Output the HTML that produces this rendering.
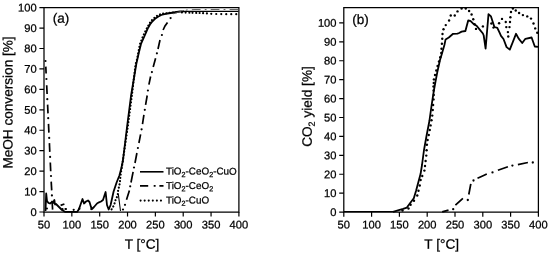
<!DOCTYPE html><html><head><meta charset="utf-8"><title>fig</title><style>html,body{margin:0;padding:0;background:#fff}svg{display:block}text{font-family:"Liberation Sans",sans-serif;fill:#000;stroke:#000;stroke-width:0.25;text-rendering:geometricPrecision}</style></head><body>
<svg width="550" height="255" viewBox="0 0 550 255">
<rect width="550" height="255" fill="#fff"/>
<path d="M44.0,7.6H238.9V212.0H44.0Z" fill="none" stroke="#000" stroke-width="1.25"/>
<text x="36.70" y="215.90" transform="rotate(0.03 36.70 215.90)" font-size="11.15" text-anchor="end">0</text>
<text x="36.70" y="195.46" transform="rotate(0.03 36.70 195.46)" font-size="11.15" text-anchor="end">10</text>
<text x="36.70" y="175.02" transform="rotate(0.03 36.70 175.02)" font-size="11.15" text-anchor="end">20</text>
<text x="36.70" y="154.58" transform="rotate(0.03 36.70 154.58)" font-size="11.15" text-anchor="end">30</text>
<text x="36.70" y="134.14" transform="rotate(0.03 36.70 134.14)" font-size="11.15" text-anchor="end">40</text>
<text x="36.70" y="113.70" transform="rotate(0.03 36.70 113.70)" font-size="11.15" text-anchor="end">50</text>
<text x="36.70" y="93.26" transform="rotate(0.03 36.70 93.26)" font-size="11.15" text-anchor="end">60</text>
<text x="36.70" y="72.82" transform="rotate(0.03 36.70 72.82)" font-size="11.15" text-anchor="end">70</text>
<text x="36.70" y="52.38" transform="rotate(0.03 36.70 52.38)" font-size="11.15" text-anchor="end">80</text>
<text x="36.70" y="31.94" transform="rotate(0.03 36.70 31.94)" font-size="11.15" text-anchor="end">90</text>
<text x="36.70" y="11.50" transform="rotate(0.03 36.70 11.50)" font-size="11.15" text-anchor="end">100</text>
<text x="44.00" y="228.40" transform="rotate(0.03 44.00 228.40)" font-size="11.15" text-anchor="middle">50</text>
<text x="71.84" y="228.40" transform="rotate(0.03 71.84 228.40)" font-size="11.15" text-anchor="middle">100</text>
<text x="99.69" y="228.40" transform="rotate(0.03 99.69 228.40)" font-size="11.15" text-anchor="middle">150</text>
<text x="127.53" y="228.40" transform="rotate(0.03 127.53 228.40)" font-size="11.15" text-anchor="middle">200</text>
<text x="155.37" y="228.40" transform="rotate(0.03 155.37 228.40)" font-size="11.15" text-anchor="middle">250</text>
<text x="183.21" y="228.40" transform="rotate(0.03 183.21 228.40)" font-size="11.15" text-anchor="middle">300</text>
<text x="211.06" y="228.40" transform="rotate(0.03 211.06 228.40)" font-size="11.15" text-anchor="middle">350</text>
<text x="238.90" y="228.40" transform="rotate(0.03 238.90 228.40)" font-size="11.15" text-anchor="middle">400</text>
<path d="M39.4,212.00H44.0M39.4,191.56H44.0M39.4,171.12H44.0M39.4,150.68H44.0M39.4,130.24H44.0M39.4,109.80H44.0M39.4,89.36H44.0M39.4,68.92H44.0M39.4,48.48H44.0M39.4,28.04H44.0M39.4,7.60H44.0M44.00,212.0V216.6M71.84,212.0V216.6M99.69,212.0V216.6M127.53,212.0V216.6M155.37,212.0V216.6M183.21,212.0V216.6M211.06,212.0V216.6M238.90,212.0V216.6" stroke="#000" stroke-width="1.2" fill="none"/>
<text x="142.05" y="248.80" transform="rotate(0.03 142.05 248.80)" font-size="13.6" text-anchor="middle">T [°C]</text>
<text transform="translate(12.4,168.6) rotate(-89.97)" font-size="13.6">MeOH conversion [%]</text>
<text x="52.80" y="22.80" transform="rotate(0.03 52.80 22.80)" font-size="13.5" text-anchor="start">(a)</text>
<polyline points="45.5,211.0 46.2,193.5 47.0,201.0 48.5,203.0 50.0,203.5 52.0,202.0 53.0,203.0 54.4,200.0 55.0,204.5 56.0,204.0 58.0,206.0 60.0,208.0 62.0,210.0 65.0,211.8 77.3,211.8 79.0,209.0 82.5,199.0 84.0,203.5 86.0,201.5 88.0,200.5 89.5,202.0 91.0,207.0 92.0,209.0 94.0,207.0 97.0,203.5 99.0,202.3 101.0,201.5 103.0,200.0 105.6,192.0 107.0,205.0 108.7,209.5 110.6,205.0 113.6,191.5 116.6,182.5 119.4,175.5 121.4,168.0 123.0,160.0 126.9,128.0 131.0,96.0 136.3,64.0 139.0,52.0 141.0,44.0 146.3,32.0 148.0,28.0 150.0,24.5 152.5,21.3 155.0,18.8 158.0,16.7 161.3,15.0 164.5,14.1 167.5,13.5 173.8,12.5 180.0,11.5 184.0,11.3" fill="none" stroke="#000" stroke-width="1.8" stroke-linejoin="round"/>
<polyline points="111.6,209.3 114.0,205.2 115.8,199.3 117.7,195.5 118.1,190.6 119.0,186.9 119.8,183.1 120.4,176.3 121.5,168.8 122.8,161.3 123.5,156.0 127.6,128.0 131.8,96.0 135.6,64.0 137.0,59.5 138.4,52.0 140.0,44.0 142.3,38.0 145.0,32.0 147.3,27.5 149.3,23.8 152.5,19.3 157.0,15.8 162.0,13.6 166.0,13.3 173.8,12.4 179.0,12.0" fill="none" stroke="#000" stroke-width="2.2" stroke-dasharray="0.01 3.3" stroke-linecap="round"/>
<path d="M45.8,66.6 L46.1,73.5M46.7,85.2 L47.1,94.0M47.6,104.6 L48.0,113.4M48.5,123.9 L48.9,132.6M49.4,143.1 L49.8,151.9M50.3,162.5 L50.7,171.2M51.2,181.6 L51.7,190.4M52.1,200.7 L52.6,209.6M60.6,205.4 L64.4,204.0M126.5,199.8 L129.4,190.4M131.0,182.5 L133.1,171.9M135.0,163.0 L136.9,153.0M138.9,143.0 L140.6,134.3M142.5,124.1 L143.9,114.8M145.6,104.8 L147.2,95.5M148.9,84.6 L150.6,76.5M153.2,67.0 L155.6,58.3M158.0,49.0 L160.0,40.0M163.1,30.0 L165.0,26.0 L167.5,22.5" fill="none" stroke="#000" stroke-width="1.7"/>
<circle cx="45.5" cy="61.0" r="1.1"/><circle cx="46.4" cy="79.0" r="1.1"/><circle cx="47.3" cy="99.2" r="1.1"/><circle cx="48.2" cy="118.2" r="1.1"/><circle cx="49.2" cy="137.9" r="1.1"/><circle cx="50.1" cy="156.9" r="1.1"/><circle cx="51.0" cy="176.0" r="1.1"/><circle cx="51.9" cy="195.4" r="1.1"/><circle cx="65.6" cy="209.0" r="1.1"/><circle cx="123.0" cy="209.5" r="1.1"/><circle cx="125.0" cy="204.8" r="1.1"/><circle cx="130.2" cy="186.3" r="1.1"/><circle cx="134.0" cy="167.5" r="1.1"/><circle cx="137.9" cy="148.0" r="1.1"/><circle cx="141.6" cy="129.3" r="1.1"/><circle cx="144.8" cy="109.8" r="1.1"/><circle cx="147.9" cy="90.5" r="1.1"/><circle cx="151.9" cy="72.1" r="1.1"/><circle cx="156.9" cy="53.3" r="1.1"/><circle cx="161.9" cy="35.0" r="1.1"/><circle cx="170.6" cy="18.1" r="1.1"/>
<path d="M118.3,194L120.5,211" stroke="#000" stroke-width="1.1"/>
<polyline points="173.5,13.8 178.0,12.2 182.0,11.2 187.0,9.9 195.0,9.5 238.0,9.5" fill="none" stroke="#555" stroke-width="0.9" stroke-dasharray="8.7 4.2 1.8 4.2"/>
<polyline points="183.0,11.3 238.5,11.3" fill="none" stroke="#000" stroke-width="1.3"/>
<circle cx="46.9" cy="208.5" r="1.1"/><circle cx="62.5" cy="209.2" r="1.1"/><circle cx="65.8" cy="209" r="1.1"/><circle cx="73.7" cy="209.8" r="1.1"/><circle cx="79.4" cy="208.7" r="1.1"/><circle cx="91.3" cy="209.1" r="1.1"/>
<circle cx="181.9" cy="12.4" r="1.1"/><circle cx="185.6" cy="12.6" r="1.1"/><circle cx="189.4" cy="12.7" r="1.1"/><circle cx="192.5" cy="12.8" r="1.1"/><circle cx="196.25" cy="12.9" r="1.1"/><circle cx="199.6" cy="13.0" r="1.1"/><circle cx="203.1" cy="13.2" r="1.1"/><circle cx="206.9" cy="13.4" r="1.1"/><circle cx="211.25" cy="13.8" r="1.1"/><circle cx="216.25" cy="14.0" r="1.1"/><circle cx="221.25" cy="14.1" r="1.1"/><circle cx="226.25" cy="14.2" r="1.1"/><circle cx="231.25" cy="14.2" r="1.1"/><circle cx="236.25" cy="14.2" r="1.1"/>
<path d="M140,171.8H163.5" stroke="#000" stroke-width="1.6"/>
<path d="M140,185.9H148.2M153.7,185.9H155.6M159.4,185.9H163.5" stroke="#000" stroke-width="1.7"/>
<path d="M140.6,200.6H161.5" stroke="#000" stroke-width="2.1" stroke-dasharray="0.01 4.06" stroke-linecap="round"/>
<text x="166.0" y="174.6" transform="rotate(0.03 166 174.6)" font-size="9.9" stroke-width="0.25"><tspan dy="0">TiO</tspan><tspan font-size="7.2" dy="2.4">2</tspan><tspan dy="-2.4">-CeO</tspan><tspan font-size="7.2" dy="2.4">2</tspan><tspan dy="-2.4">-CuO</tspan></text>
<text x="166.0" y="188.9" transform="rotate(0.03 166 188.9)" font-size="9.9" stroke-width="0.25"><tspan dy="0">TiO</tspan><tspan font-size="7.2" dy="2.4">2</tspan><tspan dy="-2.4">-CeO</tspan><tspan font-size="7.2" dy="2.4">2</tspan></text>
<text x="166.0" y="203.4" transform="rotate(0.03 166 203.4)" font-size="9.9" stroke-width="0.25"><tspan dy="0">TiO</tspan><tspan font-size="7.2" dy="2.4">2</tspan><tspan dy="-2.4">-CuO</tspan></text>
<path d="M344,211.5H394" stroke="#000" stroke-width="1.1"/>
<path d="M343.8,7.6H538.4V212.1H343.8Z" fill="none" stroke="#000" stroke-width="1.25"/>
<text x="336.50" y="216.00" transform="rotate(0.03 336.50 216.00)" font-size="11.15" text-anchor="end">0</text>
<text x="336.50" y="197.08" transform="rotate(0.03 336.50 197.08)" font-size="11.15" text-anchor="end">10</text>
<text x="336.50" y="178.16" transform="rotate(0.03 336.50 178.16)" font-size="11.15" text-anchor="end">20</text>
<text x="336.50" y="159.24" transform="rotate(0.03 336.50 159.24)" font-size="11.15" text-anchor="end">30</text>
<text x="336.50" y="140.32" transform="rotate(0.03 336.50 140.32)" font-size="11.15" text-anchor="end">40</text>
<text x="336.50" y="121.40" transform="rotate(0.03 336.50 121.40)" font-size="11.15" text-anchor="end">50</text>
<text x="336.50" y="102.48" transform="rotate(0.03 336.50 102.48)" font-size="11.15" text-anchor="end">60</text>
<text x="336.50" y="83.56" transform="rotate(0.03 336.50 83.56)" font-size="11.15" text-anchor="end">70</text>
<text x="336.50" y="64.64" transform="rotate(0.03 336.50 64.64)" font-size="11.15" text-anchor="end">80</text>
<text x="336.50" y="45.72" transform="rotate(0.03 336.50 45.72)" font-size="11.15" text-anchor="end">90</text>
<text x="336.50" y="26.80" transform="rotate(0.03 336.50 26.80)" font-size="11.15" text-anchor="end">100</text>
<text x="343.80" y="228.50" transform="rotate(0.03 343.80 228.50)" font-size="11.15" text-anchor="middle">50</text>
<text x="371.60" y="228.50" transform="rotate(0.03 371.60 228.50)" font-size="11.15" text-anchor="middle">100</text>
<text x="399.40" y="228.50" transform="rotate(0.03 399.40 228.50)" font-size="11.15" text-anchor="middle">150</text>
<text x="427.20" y="228.50" transform="rotate(0.03 427.20 228.50)" font-size="11.15" text-anchor="middle">200</text>
<text x="455.00" y="228.50" transform="rotate(0.03 455.00 228.50)" font-size="11.15" text-anchor="middle">250</text>
<text x="482.80" y="228.50" transform="rotate(0.03 482.80 228.50)" font-size="11.15" text-anchor="middle">300</text>
<text x="510.60" y="228.50" transform="rotate(0.03 510.60 228.50)" font-size="11.15" text-anchor="middle">350</text>
<text x="538.40" y="228.50" transform="rotate(0.03 538.40 228.50)" font-size="11.15" text-anchor="middle">400</text>
<path d="M339.2,212.10H343.8M339.2,193.18H343.8M339.2,174.26H343.8M339.2,155.34H343.8M339.2,136.42H343.8M339.2,117.50H343.8M339.2,98.58H343.8M339.2,79.66H343.8M339.2,60.74H343.8M339.2,41.82H343.8M339.2,22.90H343.8M343.80,212.1V216.7M371.60,212.1V216.7M399.40,212.1V216.7M427.20,212.1V216.7M455.00,212.1V216.7M482.80,212.1V216.7M510.60,212.1V216.7M538.40,212.1V216.7" stroke="#000" stroke-width="1.2" fill="none"/>
<text x="441.70" y="248.80" transform="rotate(0.03 441.70 248.80)" font-size="13.6" text-anchor="middle">T [°C]</text>
<text transform="translate(311.7,146.8) rotate(-89.97)" font-size="13.6">CO<tspan font-size="9" dy="3">2</tspan><tspan dy="-3"> yield [%]</tspan></text>
<text x="352.20" y="23.90" transform="rotate(0.03 352.20 23.90)" font-size="13.5" text-anchor="start">(b)</text>
<polyline points="393.0,211.8 398.8,210.1 403.1,208.9 406.9,207.6 410.0,203.2 413.8,198.2 416.0,191.0 418.4,182.0 420.6,173.8 422.0,165.0 424.0,150.0 426.5,136.0 429.4,121.0 431.5,106.0 433.8,91.0 435.6,81.2 437.5,71.2 440.0,60.0 441.9,53.8 444.4,45.0 445.6,39.4 448.8,37.5 453.1,33.8 457.5,33.6 459.1,33.0 461.6,31.6 465.4,31.0 468.2,20.5 470.4,20.8 473.5,23.9 476.6,25.8 479.1,28.9 482.9,33.5 483.7,35.5 485.6,48.6 488.5,14.2 491.0,16.4 492.6,21.5 494.4,27.0 497.3,27.8 499.8,33.2 501.0,35.9 503.5,39.0 506.6,47.1 509.8,49.6 516.0,33.8 518.5,38.4 522.2,43.0 525.4,38.8 531.6,37.5 534.8,46.5 538.0,46.9" fill="none" stroke="#000" stroke-width="1.8" stroke-linejoin="round"/>
<circle cx="402.5" cy="210.5" r="1.2"/><circle cx="408.5" cy="208.5" r="1.2"/><circle cx="410.6" cy="204.75" r="1.2"/><circle cx="414" cy="200.75" r="1.2"/><circle cx="417.25" cy="195.5" r="1.2"/><circle cx="418.5" cy="190.75" r="1.2"/><circle cx="419.75" cy="185.5" r="1.2"/><circle cx="420.6" cy="180" r="1.2"/><circle cx="422.25" cy="176" r="1.2"/><circle cx="424.4" cy="170.6" r="1.2"/><circle cx="425" cy="166" r="1.2"/><circle cx="425.6" cy="161" r="1.2"/><circle cx="426.25" cy="155.6" r="1.2"/><circle cx="426.6" cy="150.3" r="1.2"/><circle cx="426.9" cy="144.8" r="1.2"/><circle cx="427.6" cy="140" r="1.2"/><circle cx="428.75" cy="135" r="1.2"/><circle cx="429.75" cy="130" r="1.2"/><circle cx="430.6" cy="125.4" r="1.2"/><circle cx="431.5" cy="120.3" r="1.2"/><circle cx="432.25" cy="115.6" r="1.2"/><circle cx="432.75" cy="110" r="1.2"/><circle cx="433.1" cy="105" r="1.2"/><circle cx="433.5" cy="99.4" r="1.2"/><circle cx="433.75" cy="95" r="1.2"/><circle cx="433.6" cy="90.5" r="1.2"/><circle cx="433.5" cy="86.5" r="1.2"/><circle cx="433.75" cy="83" r="1.2"/><circle cx="433.9" cy="79.4" r="1.2"/><circle cx="435" cy="75" r="1.2"/><circle cx="436.3" cy="70.5" r="1.2"/><circle cx="437.6" cy="66" r="1.2"/><circle cx="439" cy="61.5" r="1.2"/><circle cx="440.2" cy="57.3" r="1.2"/><circle cx="441.25" cy="53" r="1.2"/><circle cx="441.5" cy="48.75" r="1.2"/><circle cx="441.9" cy="43.75" r="1.2"/><circle cx="442.25" cy="38.75" r="1.2"/><circle cx="442.5" cy="34" r="1.2"/><circle cx="443.5" cy="29.25" r="1.2"/><circle cx="445.75" cy="25.1" r="1.2"/><circle cx="449.1" cy="20.5" r="1.2"/><circle cx="450.75" cy="15.5" r="1.2"/><circle cx="454.75" cy="15.5" r="1.2"/><circle cx="457.5" cy="11.4" r="1.2"/><circle cx="461.6" cy="8.5" r="1.2"/><circle cx="465.75" cy="8.5" r="1.2"/><circle cx="469.1" cy="11" r="1.2"/><circle cx="471.6" cy="14.5" r="1.2"/><circle cx="473.25" cy="19.25" r="1.2"/><circle cx="474.6" cy="24.2" r="1.2"/><circle cx="476" cy="28.9" r="1.2"/><circle cx="482.9" cy="26.4" r="1.2"/><circle cx="491.4" cy="23.5" r="1.2"/><circle cx="493.5" cy="27.6" r="1.2"/><circle cx="499.1" cy="23.25" r="1.2"/><circle cx="502" cy="18.9" r="1.2"/><circle cx="505.75" cy="22" r="1.2"/><circle cx="506.3" cy="27.1" r="1.2"/><circle cx="507.9" cy="32.1" r="1.2"/><circle cx="508.25" cy="36.5" r="1.2"/><circle cx="509.5" cy="27.1" r="1.2"/><circle cx="510" cy="22" r="1.2"/><circle cx="510.4" cy="17.25" r="1.2"/><circle cx="511" cy="12" r="1.2"/><circle cx="512.9" cy="8.5" r="1.2"/><circle cx="515.75" cy="10.5" r="1.2"/><circle cx="519.1" cy="13" r="1.2"/><circle cx="522.9" cy="15.1" r="1.2"/><circle cx="527.25" cy="16.4" r="1.2"/><circle cx="531" cy="18.6" r="1.2"/><circle cx="533.5" cy="23.5" r="1.2"/><circle cx="535.2" cy="28.4" r="1.2"/><circle cx="537.25" cy="32.7" r="1.2"/>
<path d="M442.2,211.8 L448.5,210.1M455.4,205.1 L462.9,198.3M468.8,194.5 L470.8,183.9M477.5,178.3 L482.0,176.2 L486.8,174.0M497.9,170.3 L507.9,166.7M517.9,164.6 L527.9,162.5" fill="none" stroke="#000" stroke-width="1.75"/>
<circle cx="453.2" cy="209.2" r="1.15"/><circle cx="467.8" cy="200.0" r="1.15"/><circle cx="473.5" cy="180.5" r="1.15"/><circle cx="492.5" cy="172.4" r="1.15"/><circle cx="512.4" cy="165.6" r="1.15"/><circle cx="532.8" cy="162.5" r="1.15"/>
</svg></body></html>
